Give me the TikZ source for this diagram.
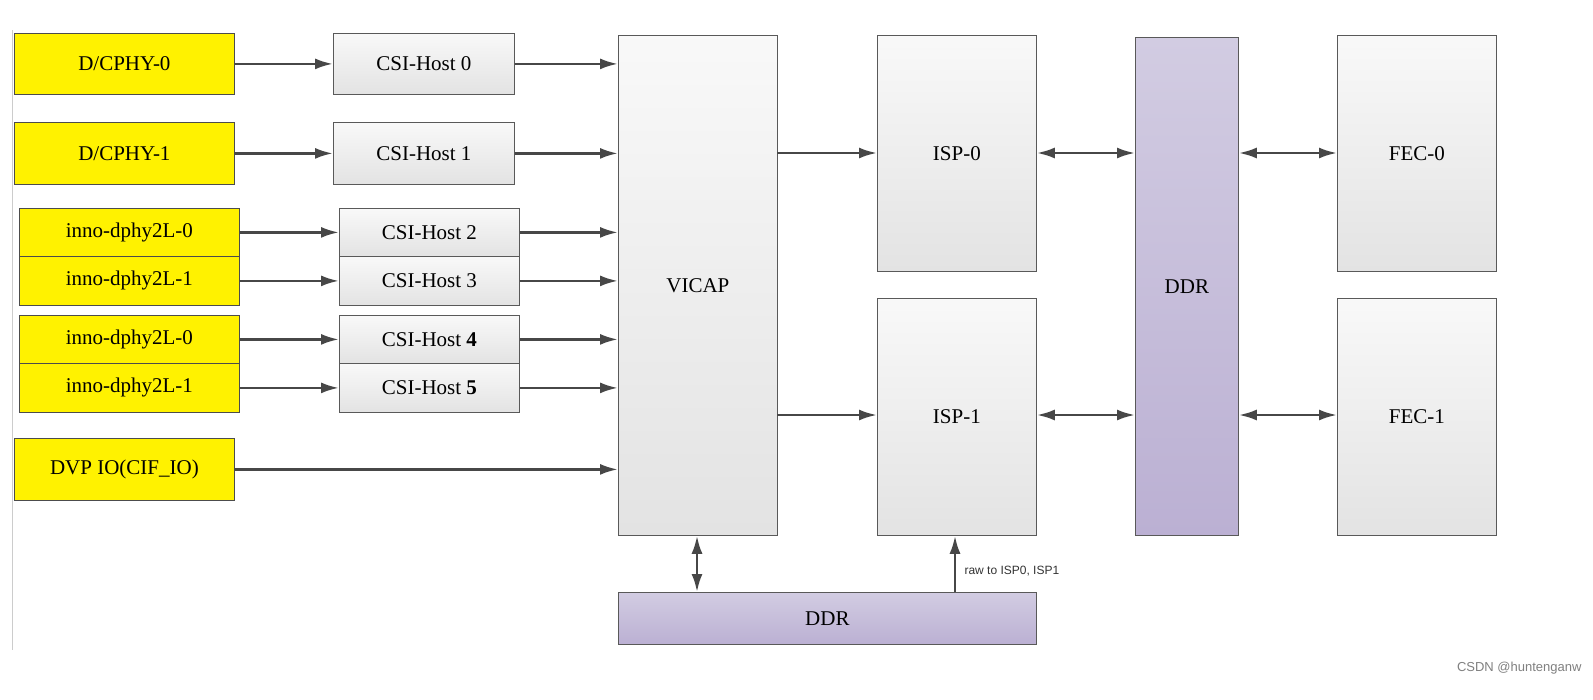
\documentclass[tikz,border=0pt]{standalone}
\usepackage{fontspec}
\setmainfont{Liberation Serif}
\newfontfamily\lblfont{Liberation Sans}
\usetikzlibrary{arrows.meta}
\definecolor{ptop}{HTML}{D2CCE2}
\definecolor{pbot}{HTML}{BBB0D3}
\begin{document}
\begin{tikzpicture}[x=1pt,y=-1pt,
  box/.style={draw=gray!70!black,line width=0.8pt,top color=gray!5,bottom color=gray!22,inner sep=0pt},
  ybox/.style={draw=gray!60!black,line width=0.8pt,fill=yellow,inner sep=0pt},
  pbox/.style={draw=gray!70!black,line width=0.8pt,top color=ptop,bottom color=pbot,inner sep=0pt},
  arr/.style={draw=black!72,line width=2.6pt,-{Latex[length=18pt,width=11pt]}},
  darr/.style={draw=black!72,line width=2.6pt,{Latex[length=18pt,width=11pt]}-{Latex[length=18pt,width=11pt]}}]
\useasboundingbox[fill=white] (0,0) rectangle (1593,699);
\draw[gray!40,line width=1pt] (12,30) -- (12,650);
\newcommand\bx[6]{\node[#1,minimum width=#4-#2,minimum height=#5-#3,anchor=north west] (#6) at (#2,#3) {};}
\newcommand\tx[2]{\node at (#1) {\fontsize{21}{23}\selectfont #2};}
\bx{ybox}{14}{33}{234}{94}{p0}\tx{p0}{D/CPHY-0}
\bx{ybox}{14}{122}{234}{184}{p1}\tx{p1}{D/CPHY-1}
\bx{ybox}{19}{208}{239}{256}{p2}\tx{p2}{inno-dphy2L-0}
\bx{ybox}{19}{256}{239}{305}{p3}\tx{p3}{inno-dphy2L-1}
\bx{ybox}{19}{315}{239}{363}{p4}\tx{p4}{inno-dphy2L-0}
\bx{ybox}{19}{363}{239}{412}{p5}\tx{p5}{inno-dphy2L-1}
\bx{ybox}{14}{438}{234}{500}{dvp}\tx{dvp}{DVP IO(CIF\_IO)}
\bx{box}{333}{33}{514}{94}{c0}\tx{c0}{CSI-Host 0}
\bx{box}{333}{122}{514}{184}{c1}\tx{c1}{CSI-Host 1}
\bx{box}{339}{208}{519}{256}{c2}\tx{c2}{CSI-Host 2}
\bx{box}{339}{256}{519}{305}{c3}\tx{c3}{CSI-Host 3}
\bx{box}{339}{315}{519}{363}{c4}\tx{c4}{CSI-Host \textbf{4}}
\bx{box}{339}{363}{519}{412}{c5}\tx{c5}{CSI-Host \textbf{5}}
\bx{box}{618}{35}{777}{535}{vicap}\tx{vicap}{VICAP}
\bx{box}{877}{35}{1036}{271}{isp0}\tx{isp0}{ISP-0}
\bx{box}{877}{298}{1036}{535}{isp1}\tx{isp1}{ISP-1}
\bx{pbox}{1135}{37}{1238}{535}{ddr}\tx{ddr}{DDR}
\bx{box}{1337}{35}{1496}{271}{fec0}\tx{fec0}{FEC-0}
\bx{box}{1337}{298}{1496}{535}{fec1}\tx{fec1}{FEC-1}
\bx{pbox}{618}{592}{1036}{644}{ddrb}\tx{ddrb}{DDR}
\foreach \a/\b in {p0/c0,p1/c1,p2/c2,p3/c3,p4/c4,p5/c5}{\draw[arr] (\a.east) -- (\b.west);}
\foreach \a in {c0,c1,c2,c3,c4,c5,dvp}{\draw[arr] (\a.east) -- (\a.east -| vicap.west);}
\draw[arr] (777,153) -- (isp0.west |- 0,153);
\draw[arr] (777,415) -- (isp1.west |- 0,415);
\draw[darr] (isp0.east |- 0,153) -- (ddr.west |- 0,153);
\draw[darr] (isp1.east |- 0,415) -- (ddr.west |- 0,415);
\draw[darr] (ddr.east |- 0,153) -- (fec0.west |- 0,153);
\draw[darr] (ddr.east |- 0,415) -- (fec1.west |- 0,415);
\draw[darr] (vicap.south -| 697,0) -- (ddrb.north -| 697,0);
\draw[arr] (ddrb.north -| 955,0) -- (isp1.south -| 955,0);
\node[anchor=west,font=\lblfont\fontsize{12}{14}\selectfont,text=black!80] (raw) at (961,571) {raw to ISP0, ISP1};
\node[anchor=east,font=\lblfont\fontsize{13}{15}\selectfont,text=gray] (wm) at (1585,668) {CSDN @huntenganw};
\end{tikzpicture}
\end{document}
